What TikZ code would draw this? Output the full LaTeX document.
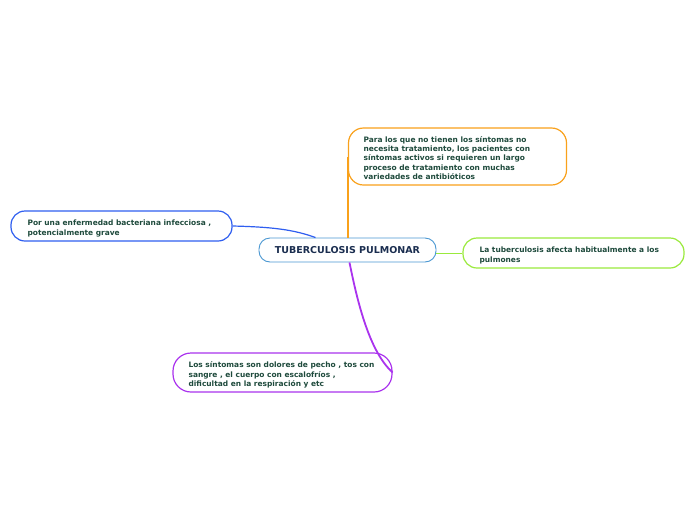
\documentclass[tikz,border=0pt]{standalone}
\usepackage{fontspec}
\setmainfont{DejaVu Sans}
\definecolor{txtc}{HTML}{1E4A3C}
\definecolor{mainc}{HTML}{1A2D4F}
\definecolor{mainb}{HTML}{4A98D2}
\definecolor{orangec}{HTML}{F9A11B}
\definecolor{bluec}{HTML}{2F5EF0}
\definecolor{greenc}{HTML}{9AEA3C}
\definecolor{purplec}{HTML}{AA33EE}
\tikzset{
  box/.style={draw=#1, line width=1.2pt, fill=white, rectangle, inner sep=0pt},
  txt/.style={inner sep=0pt, align=left, text=txtc, anchor=west,
    font=\fontsize{7.45}{9.3}\selectfont\bfseries},
  conn/.style={draw=#1}
}
\begin{document}
\begin{tikzpicture}[x=1pt,y=-1pt]
\useasboundingbox[fill=white] (0,0) rectangle (696,520);
% central
\node[box=mainb, line width=0.9pt, rounded corners=11pt, minimum width=177pt, minimum height=24pt,
  text=mainc, font=\fontsize{9.5}{11}\selectfont\bfseries] (central) at (347.5,250) {TUBERCULOSIS PULMONAR};
% orange
\node[box=orangec, rounded corners=15pt, minimum width=218pt, minimum height=57pt] (orange) at (457.5,156.5) {};
\node[txt] (orangeT) at ([xshift=15.5pt,yshift=-1.5pt]orange.west) {Para los que no tienen los síntomas no\\necesita tratamiento, los pacientes con\\síntomas activos si requieren un largo\\proceso de tratamiento con muchas\\variedades de antibióticos};
% blue
\node[box=bluec, rounded corners=14pt, minimum width=221pt, minimum height=30pt] (blue) at (121.5,226) {};
\node[txt] (blueT) at ([xshift=17pt,yshift=-2.5pt]blue.west) {Por una enfermedad bacteriana infecciosa ,\\potencialmente grave};
% green
\node[box=greenc, rounded corners=14pt, minimum width=221pt, minimum height=30pt] (green) at (573.5,253) {};
\node[txt] (greenT) at ([xshift=17pt,yshift=-2.5pt]green.west) {La tuberculosis afecta habitualmente a los\\pulmones};
% purple
\node[box=purplec, rounded corners=18pt, minimum width=219pt, minimum height=39pt] (purple) at (282.5,372.5) {};
\node[txt] (purpleT) at ([xshift=16pt,yshift=-2.5pt]purple.west) {Los síntomas son dolores de pecho , tos con\\sangre , el cuerpo con escalofríos ,\\dificultad en la respiración y etc};
% connectors
\draw[conn=orangec, line width=1.7pt] (orange.west |- central.north) -- (orange.west);
\draw[conn=bluec, line width=1.2pt] (blue.east) .. controls +(40,1) and +(-22,-8) .. ([xshift=-32pt]central.north);
\draw[conn=greenc, line width=0.8pt] (central.east |- green.west) -- (green.west);
\draw[conn=purplec, line width=1.8pt] ([xshift=2pt]central.south) .. controls (358,305) and (370,352) .. (purple.east);
\end{tikzpicture}
\end{document}
